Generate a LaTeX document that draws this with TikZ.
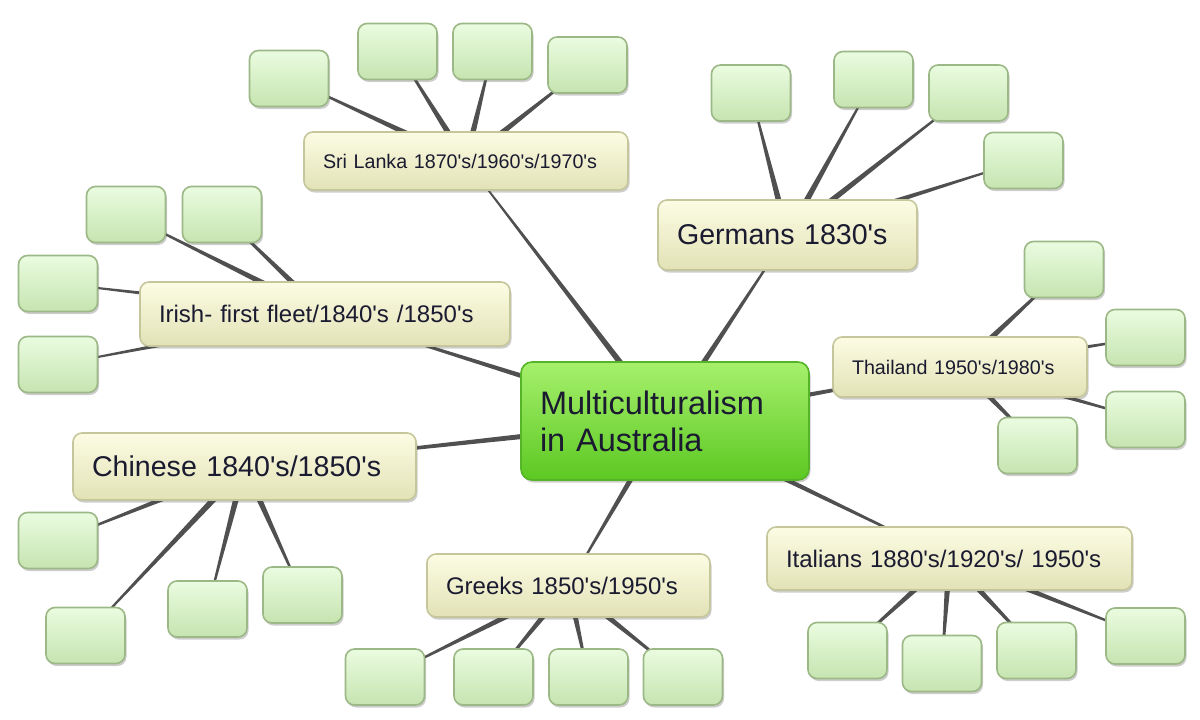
\documentclass[tikz,border=0pt]{standalone}
\usepackage{fontspec}
\setmainfont{Liberation Sans}[Ligatures=TeXOff]
\usetikzlibrary{calc,shadows}
\pgfdeclarelayer{background}
\pgfsetlayers{background,main}
\definecolor{leaftop}{HTML}{EAFCE0}
\definecolor{leafbot}{HTML}{C6E4B0}
\definecolor{leafborder}{HTML}{9DB887}
\definecolor{topictop}{HTML}{FCFCE4}
\definecolor{topicbot}{HTML}{E2E2B6}
\definecolor{topicborder}{HTML}{C6C69C}
\definecolor{centtop}{HTML}{A6F06C}
\definecolor{centmid}{HTML}{7FE03E}
\definecolor{centbot}{HTML}{5CC822}
\definecolor{centborder}{HTML}{56B428}
\definecolor{conncol}{HTML}{505050}
\definecolor{textc}{HTML}{1A1A30}
\newcommand\mmlink[2]{\fill[conncol] ($(#1)!3.5pt!90:(#2)$) -- ($(#1)!3.5pt!-90:(#2)$) -- ($(#2)!0.6pt!90:(#1)$) -- ($(#2)!0.6pt!-90:(#1)$) -- cycle;}
\tikzset{
  boxshadow/.style={drop shadow={shadow xshift=1.5pt, shadow yshift=-2.5pt, opacity=0.28, fill=black!70}},
  leaf/.style={draw=leafborder, line width=1.6pt, rounded corners=9pt, top color=leaftop, bottom color=leafbot, minimum width=79pt, minimum height=56pt, inner sep=0pt, boxshadow},
  topic/.style={draw=topicborder, line width=1.6pt, rounded corners=9pt, top color=topictop, bottom color=topicbot, inner xsep=19pt, inner ysep=0pt, align=left, text=textc, boxshadow},
  central/.style={draw=centborder, line width=1.6pt, rounded corners=11pt, top color=centtop, middle color=centmid, bottom color=centbot, inner xsep=19pt, inner ysep=0pt, align=left, text=textc, boxshadow},
  fsmall/.style={font=\fontsize{19.7}{23}\selectfont},
  fmid/.style={font=\fontsize{24}{28}\selectfont},
  fbig/.style={font=\fontsize{28.6}{33}\selectfont},
}
\begin{document}
\begin{tikzpicture}[x=1pt,y=-1pt]
\useasboundingbox (0,0) rectangle (1200,720);
% central
\node[central, text width=250pt, minimum height=118pt, font=\fontsize{32.5}{37}\selectfont] (c) at (665,421) {Multiculturalism\\in Australia};
% topics
\node[topic, fsmall, text width=286pt, minimum height=58pt] (sl) at (466,161) {Sri Lanka 1870's/1960's/1970's};
\node[topic, fbig, text width=221pt, minimum height=70pt] (ge) at (787.5,235) {Germans 1830's};
\node[topic, fsmall, text width=216pt, minimum height=60pt] (th) at (960,367) {Thailand 1950's/1980's};
\node[topic, fmid, text width=327pt, minimum height=63pt] (it) at (949.5,558.5) {Italians 1880's/1920's/ 1950's};
\node[topic, fmid, text width=245pt, minimum height=63pt] (gr) at (568.5,585.5) {Greeks 1850's/1950's};
\node[topic, fbig, text width=305pt, minimum height=67pt] (ch) at (244.5,466.5) {Chinese 1840's/1850's};
\node[topic, fmid, text width=332pt, minimum height=64pt] (ir) at (325,314) {Irish- first fleet/1840's /1850's};
% leaves
\node[leaf] (sl1) at (289,78.5) {};
\node[leaf] (sl2) at (397.5,51.5) {};
\node[leaf] (sl3) at (492.5,51.5) {};
\node[leaf] (sl4) at (587.5,65) {};
\node[leaf] (ge1) at (751,93) {};
\node[leaf] (ge2) at (873.5,79.5) {};
\node[leaf] (ge3) at (968.5,93) {};
\node[leaf] (ge4) at (1023.5,160.5) {};
\node[leaf] (th1) at (1064,269.5) {};
\node[leaf] (th2) at (1145.5,337.5) {};
\node[leaf] (th3) at (1145.5,419.5) {};
\node[leaf] (th4) at (1037.5,445.5) {};
\node[leaf] (it1) at (847.5,650.5) {};
\node[leaf] (it2) at (942,663.5) {};
\node[leaf] (it3) at (1036.5,650.5) {};
\node[leaf] (it4) at (1145.5,636) {};
\node[leaf] (gr1) at (385,677) {};
\node[leaf] (gr2) at (493.5,677) {};
\node[leaf] (gr3) at (588.5,677) {};
\node[leaf] (gr4) at (683,677) {};
\node[leaf] (ch1) at (58,540.5) {};
\node[leaf] (ch2) at (85.5,635.5) {};
\node[leaf] (ch3) at (207.5,609) {};
\node[leaf] (ch4) at (302.5,595) {};
\node[leaf] (ir1) at (126,214.5) {};
\node[leaf] (ir2) at (222,214.5) {};
\node[leaf] (ir3) at (58,283.5) {};
\node[leaf] (ir4) at (58,364.5) {};
\begin{pgfonlayer}{background}
\foreach \t in {sl,ge,th,it,gr,ch,ir}{\mmlink{c}{\t}}
\foreach \t in {sl,ge,th,it,gr}{\foreach \k in {1,2,3,4}{\mmlink{\t}{\t\k}}}
\foreach \t in {ch,ir}{\foreach \k in {1,2,3,4}{\mmlink{\t}{\t\k}}}
\end{pgfonlayer}
\end{tikzpicture}
\end{document}
